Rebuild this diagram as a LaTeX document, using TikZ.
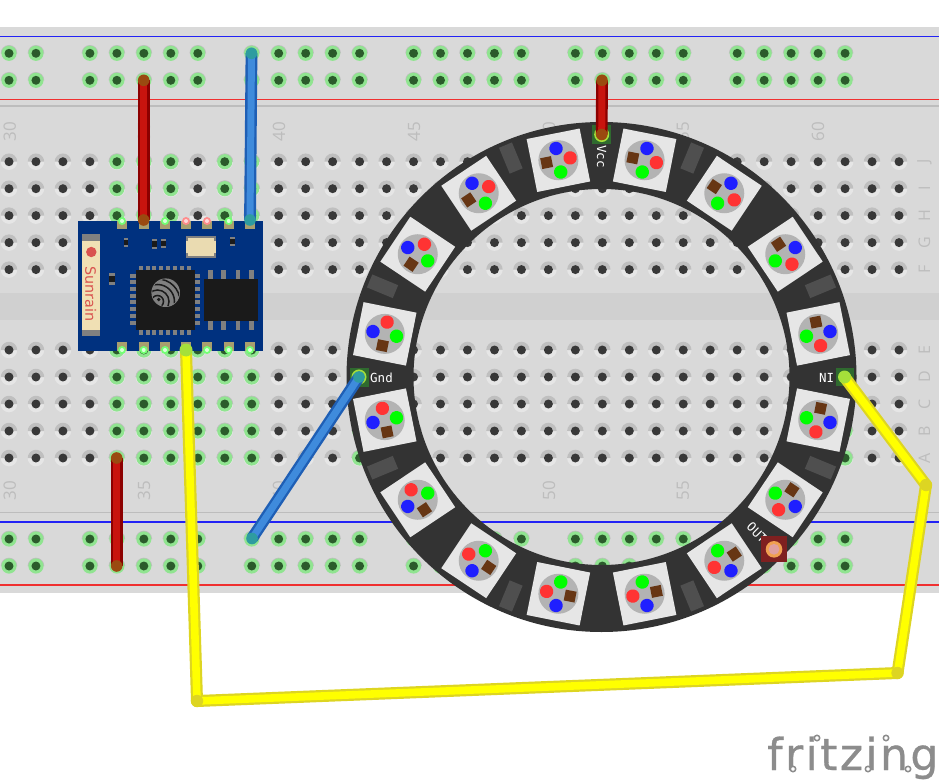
\documentclass[tikz,border=0pt]{standalone}
\usepackage{fontspec}
\usetikzlibrary{calc}
\setmainfont{Open Sans}
\newfontfamily\monof{DejaVu Sans Mono}
\newfontfamily\dejav{DejaVu Sans}
\newfontfamily\logof[FakeBold=0.7,LetterSpace=5.5]{DejaVu Sans}
\definecolor{board}{HTML}{D9D9D9}
\definecolor{bandc}{HTML}{D0D0D0}
\definecolor{edgec}{HTML}{BDBDBD}
\definecolor{holeup}{HTML}{BFBFBF}
\definecolor{holelo}{HTML}{E6E6E6}
\definecolor{holedk}{HTML}{383838}
\definecolor{holegr}{HTML}{2B5B2B}
\definecolor{halogr}{HTML}{90E490}
\definecolor{ringc}{HTML}{333333}
\definecolor{markc}{HTML}{4F4F4F}
\definecolor{ledsq}{HTML}{E6E6E6}
\definecolor{ledci}{HTML}{B3B3B3}
\definecolor{ledr}{HTML}{FF3333}
\definecolor{ledb}{HTML}{1F1FFF}
\definecolor{ledg}{HTML}{00FF00}
\definecolor{ledbr}{HTML}{673614}
\definecolor{pcb}{HTML}{00317F}
\definecolor{pint}{HTML}{A89F6E}
\definecolor{chipc}{HTML}{1A1A1A}
\definecolor{padc}{HTML}{808080}
\definecolor{creamc}{HTML}{F0E0B4}
\definecolor{numc}{HTML}{BDBDBD}
\definecolor{logoc}{HTML}{8C8C8C}
\definecolor{redo}{HTML}{8C0000}
\definecolor{redi}{HTML}{C8140E}
\definecolor{bluo}{HTML}{1F5FB5}
\definecolor{blui}{HTML}{3F8BDC}
\definecolor{yelo}{HTML}{DDD522}
\definecolor{yeli}{HTML}{FFFF00}
\definecolor{redendc}{HTML}{9A4A10}
\definecolor{tealendc}{HTML}{2E9CA0}
\definecolor{limec}{HTML}{A5E03A}
\definecolor{padgr}{HTML}{2F6A2F}
\definecolor{outpad}{HTML}{7F2020}
\definecolor{outring}{HTML}{F0A050}
\definecolor{outcen}{HTML}{E0A0A0}
\definecolor{railb}{HTML}{2222F5}
\definecolor{railr}{HTML}{F03030}
\definecolor{sunc}{HTML}{D9534F}
\tikzset{
  redwire/.style={draw=redo,double=redi,double distance=7pt,line width=2.4pt,line join=round},
  bluewire/.style={draw=bluo,double=blui,double distance=7pt,line width=2.4pt,line join=round},
  yellowwire/.style={draw=yelo,double=yeli,double distance=7.6pt,line width=2.2pt,line join=round},
  numlabel/.style={text=numc,font=\fontsize{17}{17}\selectfont,rotate=90,inner sep=0pt},
  letlabel/.style={text=numc,font=\fontsize{16}{16}\selectfont,rotate=90,inner sep=0pt},
  padtext/.style={text=white,font=\monof\fontsize{12.5}{12.5}\selectfont,inner sep=0pt},
  redend/.style={fill=redendc},
  tealend/.style={fill=tealendc},
  yelend/.style={fill=yelo},
  limeend/.style={fill=limec},
  pinpad/.style={fill=pint},
  logoring/.style={draw=logoc,fill=white,line width=1.5pt}
}
\newcommand{\holedraw}[2]{%
  \fill[holelo] ({9+26.97*#1},#2) circle[radius=8.3pt];
  \fill[holeup] ({9+26.97*#1-8.3},#2) arc[start angle=180,end angle=0,radius=8.3pt] -- cycle;
  \fill[holedk] ({9+26.97*#1},#2) circle[radius=4.5pt];}
\newcommand{\greenhole}[2]{%
  \fill[holeup] ({9+26.97*#1-8.3},#2) arc[start angle=180,end angle=0,radius=8.3pt] -- cycle;
  \fill[halogr] ({9+26.97*#1},#2) circle[radius=7.6pt];
  \fill[holegr] ({9+26.97*#1},#2) circle[radius=4.5pt];}
\begin{document}
\begin{tikzpicture}[x=1pt,y=-1pt]
\useasboundingbox (0,0) rectangle (939,783);
\clip (0,0) rectangle (939,783);
\fill[white] (0,0) rectangle (939,783);
% breadboard
\fill[board] (0,27.3) rectangle (939,592.7);
\fill[bandc] (0,293) rectangle (939,320);
\fill[edgec] (0,105.3) rectangle (939,106.8);
\fill[edgec] (0,511.8) rectangle (939,513);
\fill[railb] (0,36) rectangle (939,37.5);
\fill[railr] (0,98.7) rectangle (939,100.2);
\fill[railb] (0,521) rectangle (939,522.5);
\fill[railr] (0,584.3) rectangle (939,585.8);
% numbers
\foreach \nm/\xx in {30/9.7,35/144,40/279,45/414,50/549,55/683,60/818}{
  \node[numlabel] (nt\nm) at (\xx,131.5) {\nm};
  \node[numlabel] (nb\nm) at (\xx,490.5) {\nm};
}
\foreach \lt/\yy in {J/161.7,I/188.7,H/215.6,G/242.6,F/269.6,E/350,D/377,C/404,B/431,A/458}{
  \node[letlabel] (l\lt) at (924.5,\yy) {\lt};
}
% holes
\foreach \k in {0,...,33}{
  \foreach \yy in {161.7,188.7,215.6,242.6,269.6,350,377,404,431,458}{
    \holedraw{\k}{\yy}
  }
}
\foreach \k in {0,1,3,4,5,6,7,9,10,11,12,13,15,16,17,18,19,21,22,23,24,25,27,28,29,30,31}{
  \foreach \yy in {53.3,80.3,539,566}{
    \greenhole{\k}{\yy}
  }
}
\foreach \k in {4,5,6,8,9}{
  \foreach \yy in {161.7,188.7,215.6,242.6,269.6}{\greenhole{\k}{\yy}}
}
\foreach \k in {4,5,6,7,8,9,13,31}{
  \foreach \yy in {350,377,404,431,458}{\greenhole{\k}{\yy}}
}
% named wire ends
\coordinate (r1a) at (143.7,80.3);
\coordinate (r1b) at (143.7,220);
\coordinate (b1a) at (251.5,53.3);
\coordinate (b1b) at (250,220);
\coordinate (r2a) at (116.7,458);
\coordinate (r2b) at (116.7,566);
\coordinate (r3a) at (602,80.3);
\coordinate (r3b) at (601.7,134.5);
\coordinate (gndp) at (359,377);
\coordinate (b2b) at (252,538.5);
\coordinate (y1) at (186,350);
\coordinate (y2) at (197,701);
\coordinate (y3) at (897.5,673);
\coordinate (y4) at (926,485);
\coordinate (nip) at (844.5,377);
\coordinate (vccp) at (601.7,134.5);
\coordinate (outp) at (774,549.3);
\coordinate (rc) at (601.5,377);
% ring
\fill[ringc,even odd rule] (rc) circle[radius=255pt] (rc) circle[radius=188pt];
\foreach \a in {22.5,67.5,...,337.5}{
  \begin{scope}[shift={(rc)},rotate=-\a]
    \fill[markc] (-7,-251) rectangle (7,-223);
  \end{scope}
}
\foreach \a in {11.25,33.75,...,348.75}{
  \begin{scope}[shift={(rc)},rotate=-\a]
    \fill[ledsq] (-27,-248) rectangle (27,-194);
    \fill[ledci] (0,-221) circle[radius=20pt];
    \fill[ledb] (0,-233) circle[radius=6.7pt];
    \fill[ledr] (12,-221) circle[radius=6.7pt];
    \fill[ledg] (0,-209) circle[radius=6.7pt];
    \fill[ledbr] (-17.5,-226.5) rectangle (-6.5,-215.5);
  \end{scope}
}
% pads
\fill[padgr] ($(vccp)+(-9.5,-9.5)$) rectangle ($(vccp)+(9.5,9.5)$);
\fill[padgr] ($(gndp)+(-9.5,-9.5)$) rectangle ($(gndp)+(9.5,9.5)$);
\fill[padgr] ($(nip)+(-9,-9)$) rectangle ($(nip)+(9,9)$);
\draw[limec,line width=2pt] (vccp) circle[radius=6.5pt];
\draw[limec,line width=2pt] (gndp) circle[radius=6.5pt];
\node[padtext,rotate=-90] (vcct) at (601.7,156.5) {Vcc};
\node[padtext] (gndt) at (381.5,377.5) {Gnd};
\node[padtext] (nit) at (826.7,378) {NI};
\node[padtext,rotate=-45] (outt) at (757,532.5) {OUT};
\fill[outpad] ($(outp)+(-13,-13)$) rectangle ($(outp)+(13,13)$);
\fill[outring] (outp) circle[radius=8.3pt];
\fill[outcen] (outp) circle[radius=5.4pt];
% module
\fill[pcb] (78,221) rectangle (262.7,350.7);
\foreach \px in {122,143.7,165,186,207,228.7,250}{
  \fill[pinpad] ({\px-5.2},221) rectangle ({\px+5.2},229.3);
  \fill[pinpad] ({\px-5.2},342) rectangle ({\px+5.2},350.7);
}
\foreach \px in {122,143.7,165,228.7,250}{
  \fill[green!55!white] (\px,221) circle[radius=4pt];
  \fill[green!15!white] (\px,221) circle[radius=2pt];
}
\foreach \px in {186,207}{
  \fill[red!45!white] (\px,221) circle[radius=4pt];
  \fill[red!15!white] (\px,221) circle[radius=2pt];
}
\foreach \px in {122,143.7,165,186,207,228.7,250}{
  \fill[green!55!white] (\px,350) circle[radius=4pt];
  \fill[green!15!white] (\px,350) circle[radius=2pt];
}
% antenna
\fill[creamc] (82.3,234) rectangle (100,335.7);
\fill[padc] (82.3,234) rectangle (100,241.3);
\fill[padc] (82.3,330.5) rectangle (100,335.7);
\fill[sunc] (91.3,252) circle[radius=5.2pt];
\node[text=sunc,font=\dejav\fontsize{14.3}{14.3}\selectfont,rotate=-90,inner sep=0pt] (sun) at (90.8,294) {Sunrain};
% small parts
\foreach \sx/\sy in {126/242.3,154.7/244,163.7/243.5,232.3/241.7}{
  \fill[padc] ({\sx-2.3},{\sy-4.7}) rectangle ({\sx+2.3},{\sy+4.7});
  \fill[chipc] ({\sx-2.3},{\sy-2.7}) rectangle ({\sx+2.3},{\sy+2.7});
}
\fill[padc] (108.8,272.8) rectangle (115.2,285.2);
\fill[chipc] (108.8,275.8) rectangle (115.2,282.2);
\fill[padc] (186,236) rectangle (215.7,257.7);
\fill[creamc!95!gray] (188,238) rectangle (213.7,255.7);
\fill[creamc!95!gray] (186,241) rectangle (215.7,252.7);
% ESP chip
\foreach \i in {0,...,7}{
  \fill[padc] ({140.7+6.85*\i-2},265.6) rectangle ({140.7+6.85*\i+2},270);
  \fill[padc] ({140.7+6.85*\i-2},330) rectangle ({140.7+6.85*\i+2},335);
  \fill[padc] (130.2,{275.7+6.7*\i-2}) rectangle (135.7,{275.7+6.7*\i+2});
  \fill[padc] (195,{275.7+6.7*\i-2}) rectangle (199.5,{275.7+6.7*\i+2});
}
\fill[chipc] (135.7,270) rectangle (195,330);
\fill[padc] (165.7,292.7) circle[radius=14.3pt];
\begin{scope}
  \clip (165.7,292.7) circle[radius=13.5pt];
  \foreach \rr in {6,11.5,17,22.5}{
    \draw[chipc,line width=1.5pt] (157.5,301.5) circle[radius=\rr pt];
  }
\end{scope}
\fill[chipc] (158.7,299.5) circle[radius=1.8pt];
% second chip
\foreach \px in {210.7,223.7,238,251.3}{
  \fill[padc] ({\px-2.3},270) rectangle ({\px+2.3},330);
}
\fill[chipc] (204.3,279.3) rectangle (257.7,321);
% wires
\draw[redwire] (r1a) -- (r1b);
\draw[bluewire] (b1a) -- (b1b);
\draw[redwire] (r2a) -- (r2b);
\draw[redwire] (r3a) -- (r3b);
\draw[bluewire] (gndp) -- (b2b);
\draw[yellowwire] (y1) -- (y2) -- (y3) -- (y4) -- (nip);
% wire ends
\foreach \c in {r1a,r1b,r2a,r2b,r3a,r3b}{
  \fill[redend] (\c) circle[radius=5.8pt];
}
\foreach \c in {b1a,b1b,gndp,b2b}{
  \fill[tealend] (\c) circle[radius=5.8pt];
}
\foreach \c in {y2,y3,y4}{
  \fill[yelend] (\c) circle[radius=6.2pt];
}
\foreach \c in {y1,nip}{
  \fill[limeend] (\c) circle[radius=6.5pt];
}
% logo
\node[anchor=base west,text=logoc,font=\logof\fontsize{44}{44}\selectfont,inner sep=0pt] (logo) at (767,770) {fritzing};
\foreach \lx/\ly in {793/769,817/738,886/738,868/769,908/769}{
  \draw[logoring] (\lx,\ly) circle[radius=2.7pt];
}
\end{tikzpicture}
\end{document}
